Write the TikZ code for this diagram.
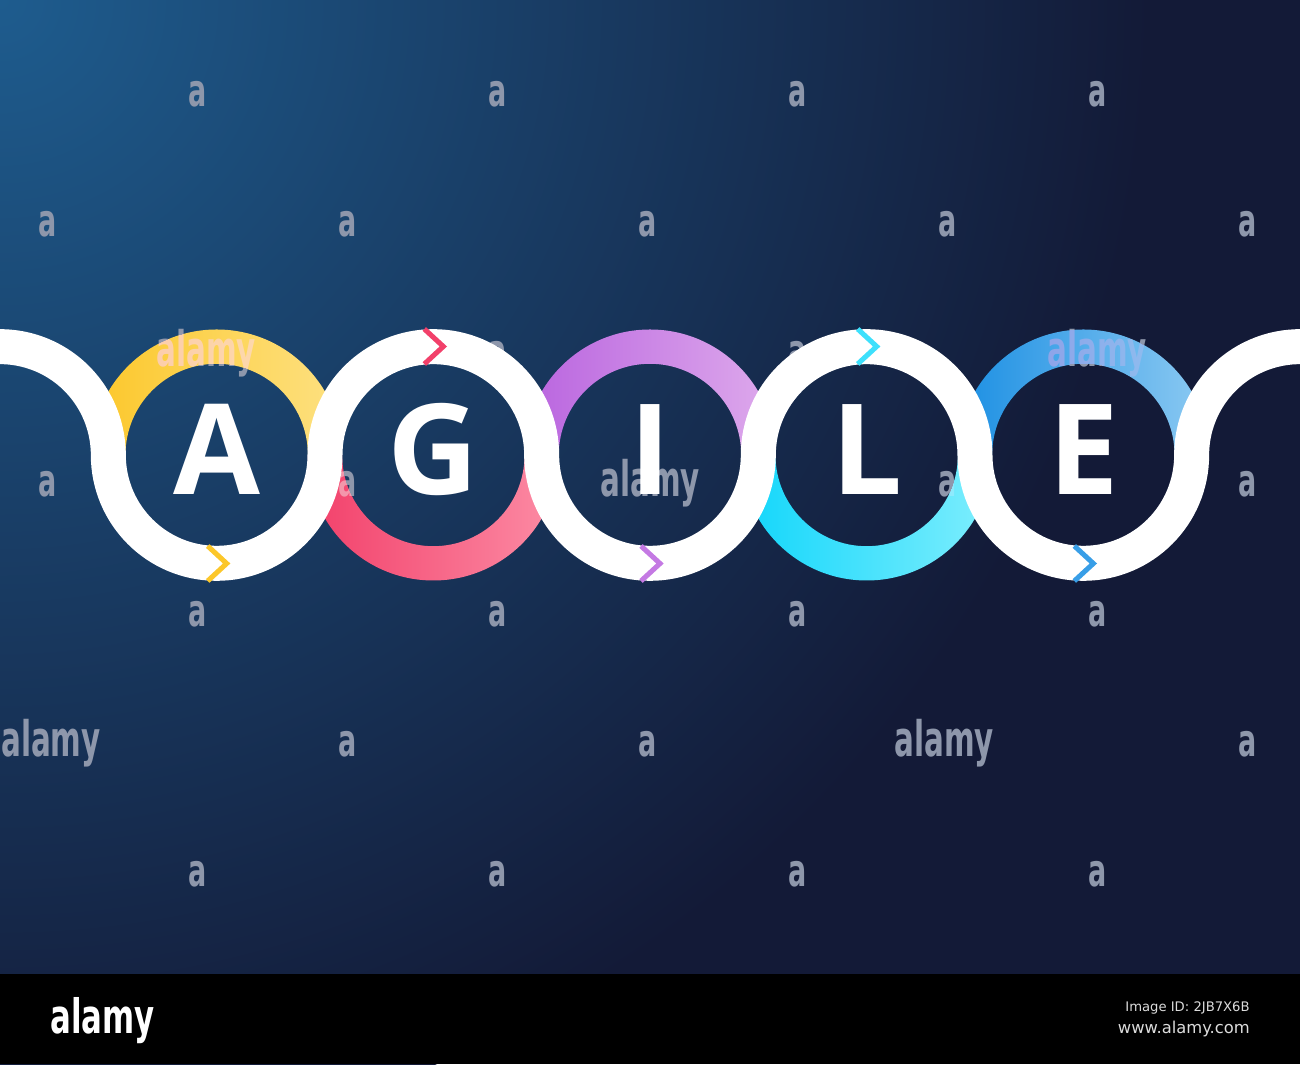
\documentclass[tikz,border=0pt]{standalone}
\usepackage{fontspec}
\newfontfamily\agilefont{Open Sans}
\newfontfamily\wmfont{DejaVu Sans}
\definecolor{bgtl}{HTML}{1E5C8E}
\definecolor{bgdark}{HTML}{131A37}
\definecolor{ylwL}{HTML}{FCC72A}
\definecolor{ylwR}{HTML}{FDE182}
\definecolor{pnkL}{HTML}{F2406A}
\definecolor{pnkR}{HTML}{FC8CA5}
\definecolor{prpL}{HTML}{B964DF}
\definecolor{prpR}{HTML}{DEAAEC}
\definecolor{cynL}{HTML}{11D6FB}
\definecolor{cynR}{HTML}{7FEEFD}
\definecolor{bluL}{HTML}{1B8FE3}
\definecolor{bluR}{HTML}{8DCAF2}
\definecolor{wmgray}{HTML}{8E97AB}
\definecolor{ftgray}{HTML}{DCDCDC}
\begin{document}
\begin{tikzpicture}[x=0.02cm,y=0.02cm,
    moji/.style={text=white,inner sep=0pt,anchor=base,
      font=\agilefont\bfseries\fontsize{71.7}{72}\selectfont},
    wm/.style={text=wmgray,inner sep=0pt,anchor=base,xscale=0.6,
      font=\wmfont\bfseries\fontsize{25.6}{26}\selectfont},
    wmlogo/.style={wm,font=\wmfont\bfseries\fontsize{27.9}{28}\selectfont},
    chev/.style={line width=0.1cm,miter limit=10}]
  % 画像の大きさ
  \useasboundingbox (0,0) rectangle (1300,1064);
  \clip (0,0) rectangle (1300,1064);
  % 背景のグラデーション
  \fill[bgdark] (0,0) rectangle (1300,1064);
  \shade[inner color=bgtl,outer color=bgdark] (0,1064) circle (1150);
  % 色つきの半円(上下交互)
  \foreach \cx/\a/\ca/\cb in {216.67/0/ylwL/ylwR,433.33/180/pnkL/pnkR,
      650/0/prpL/prpR,866.67/180/cynL/cynR,1083.33/0/bluL/bluR}{
    \begin{scope}[shift={(\cx,609)}]
      \clip (\a:125.5) arc[start angle=\a,end angle=\a+180,radius=125.5]
        -- (\a+180:91.2) arc[start angle=\a+180,end angle=\a,radius=91.2] -- cycle;
      \shade[left color=\ca,right color=\cb] (-126,-126) rectangle (126,126);
    \end{scope}
  }
  % 透かし文字
  \begin{scope}[blend mode=lighten]
    \foreach \x in {198,498,798,1098}{
      \node[wm] (wa-\x-957) at (\x,957) {a};
      \node[wm] (wa-\x-437) at (\x,437) {a};
      \node[wm] (wa-\x-177) at (\x,177) {a};
    }
    \foreach \x in {48,348,648,948,1248}
      \node[wm] (wa-\x-827) at (\x,827) {a};
    \foreach \x in {48,348,948,1248}
      \node[wm] (wa-\x-567) at (\x,567) {a};
    \foreach \x in {348,648,1248}
      \node[wm] (wa-\x-307) at (\x,307) {a};
    \node[wm] (wa-498-697) at (498,697) {a};
    \node[wm] (wa-798-697) at (798,697) {a};
    \node[wmlogo] (wl-1) at (206,697) {alamy};
    \node[wmlogo] (wl-2) at (1097,697) {alamy};
    \node[wmlogo] (wl-3) at (650,567) {alamy};
    \node[wmlogo] (wl-4) at (51,307) {alamy};
    \node[wmlogo] (wl-5) at (944,307) {alamy};
  \end{scope}
  % 白い道(波線)
  \draw[white,line width=0.7cm] (0,609) ++(110:108.33)
    arc[start angle=110,end angle=0,radius=108.33]
    arc[start angle=180,end angle=360,radius=108.33]
    arc[start angle=180,end angle=0,radius=108.33]
    arc[start angle=180,end angle=360,radius=108.33]
    arc[start angle=180,end angle=0,radius=108.33]
    arc[start angle=180,end angle=360,radius=108.33]
    arc[start angle=180,end angle=70,radius=108.33];
  % 矢印の山形
  \draw[chev,ylwL,shift={(216.67,500.5)}] (-9,17.5) -- (10,0) -- (-9,-17.5);
  \draw[chev,pnkL,shift={(433.33,717.5)}] (-9,17.5) -- (10,0) -- (-9,-17.5);
  \draw[chev,prpL!70!prpR,shift={(650,500.5)}] (-9,17.5) -- (10,0) -- (-9,-17.5);
  \draw[chev,cynL!60!cynR,shift={(866.67,717.5)}] (-9,17.5) -- (10,0) -- (-9,-17.5);
  \draw[chev,bluL!75!bluR,shift={(1083.33,500.5)}] (-9,17.5) -- (10,0) -- (-9,-17.5);
  % 文字 AGILE
  \node[moji] (ltrA) at (216.67,569) {A};
  \node[moji] (ltrG) at (433.33,569) {G};
  \node[moji] (ltrI) at (650,569) {I};
  \node[moji] (ltrL) at (866.67,569) {L};
  \node[moji] (ltrE) at (1083.33,569) {E};
  % 下の黒い帯
  \fill[black] (0,0) rectangle (1300,90);
  \node[text=white,anchor=base west,inner sep=0pt,xscale=0.65,
    font=\wmfont\bfseries\fontsize{27}{27}\selectfont] (logo) at (50,31) {alamy};
  \node[text=ftgray,anchor=base east,inner sep=0pt,
    font=\wmfont\fontsize{7.5}{8}\selectfont] (imgid) at (1250,53) {Image ID: 2JB7X6B};
  \node[text=ftgray,anchor=base east,inner sep=0pt,
    font=\wmfont\fontsize{9.3}{10}\selectfont] (url) at (1250,31) {www.alamy.com};
\end{tikzpicture}
\end{document}
